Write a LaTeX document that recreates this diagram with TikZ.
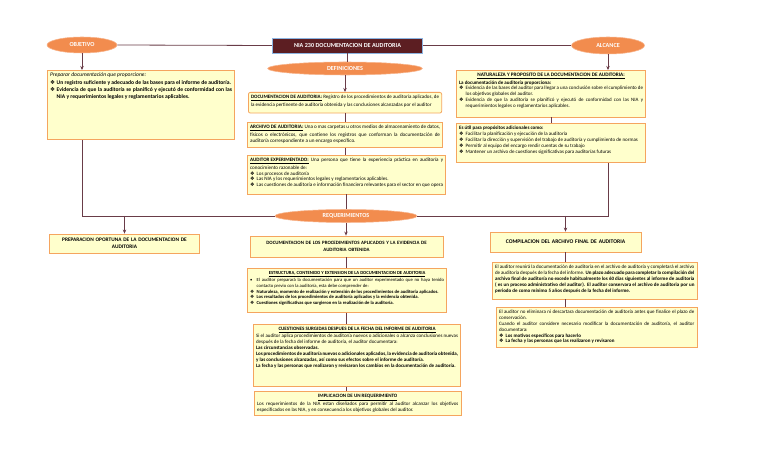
\documentclass[tikz,border=0pt]{standalone}
\usepackage{fontspec}
\setmainfont{Carlito}
\newfontfamily\symfont{DejaVu Sans}
\usetikzlibrary{shapes.geometric,arrows.meta}
\definecolor{ovalfill}{RGB}{242,140,78}
\definecolor{ovalline}{RGB}{248,180,140}
\definecolor{boxfill}{RGB}{255,255,204}
\definecolor{boxline}{RGB}{245,165,95}
\definecolor{niafill}{RGB}{92,30,34}
\definecolor{nialine}{RGB}{140,180,225}
\definecolor{linkcol}{RGB}{105,60,72}
\hyphenpenalty=10000
\exhyphenpenalty=10000
\emergencystretch=4pt
\newcommand{\dia}{{\symfont\char"2756}}
\newcommand{\itm}[1]{\par\hangindent=5pt\hangafter=1\noindent\makebox[5pt][l]{\dia}#1\par}
\newcommand{\boxtxt}[3]{\parbox[c][#2][t]{#1}{#3}}
\begin{document}
\begin{tikzpicture}[x=0.75pt,y=0.75pt,yscale=-1,
    oval/.style={ellipse, fill=ovalfill, draw=ovalline, text=white, inner sep=0pt, font=\fontsize{4.6}{5}\selectfont\bfseries},
    box/.style={draw=boxline, fill=boxfill, line width=0.6pt, anchor=north west, inner sep=2pt, font=\fontsize{3.75}{4.4}\selectfont},
    tbox/.style={draw=boxline, fill=boxfill, line width=0.6pt, align=center, inner sep=1pt, font=\fontsize{4.0}{5}\selectfont\bfseries},
    link/.style={draw=linkcol, line width=0.6pt},
    arr/.style={link, -{Stealth[length=3pt,width=2.6pt]}}]
    \useasboundingbox (0,0) rectangle (768,466);
    \fill[white] (0,0) rectangle (768,466);

    % top row
    \node[oval, minimum width=52.5pt, minimum height=12pt] (obj) at (82,45) {OBJETIVO};
    \node[fill=niafill, draw=nialine, line width=0.6pt, text=white, minimum width=113pt, minimum height=11.25pt, inner sep=0pt, font=\fontsize{4.6}{5}\selectfont\bfseries] (nia) at (347.5,45.5) {NIA 230 DOCUMENTACION DE AUDITORIA};
    \node[oval, minimum width=54.75pt, minimum height=12.75pt] (alc) at (608,45.5) {ALCANCE};
    \node[oval, minimum width=116pt, minimum height=9.75pt] (def) at (345,68.5) {DEFINICIONES};

    % objetivo
    \node[box, font=\fontsize{4.2}{5.3}\selectfont] (objbox) at (47,70) {\boxtxt{136.5pt}{48pt}{%
      {\itshape Preparar documentación que proporcione:}
      \itm{\textbf{Un registro suficiente y adecuado de las bases para el informe de auditoría.}}
      \itm{\textbf{Evidencia de que la auditoría se planificó y ejecutó de conformidad con las NIA y requerimientos legales y reglamentarios aplicables.}}}};

    % definiciones
    \node[box, rounded corners=1.5pt] (d1) at (248,92) {\boxtxt{141pt}{11.5pt}{%
      \textbf{\underline{DOCUMENTACION DE AUDITORIA:}} Registro de los procedimientos de auditoría aplicados, de la evidencia pertinente de auditoría obtenida y las conclusiones alcanzadas por el auditor}};
    \node[box, font=\fontsize{3.85}{4.4}\selectfont] (d2) at (247,122) {\boxtxt{142.5pt}{15pt}{%
      \textbf{\underline{ARCHIVO DE AUDITORIA:}} Una o mas carpetas u otros medios de almacenamiento de datos, físicos o electrónicos, que contiene los registros que conforman la documentación de auditoría correspondiente a un encargo específico.}};
    \node[box, font=\fontsize{3.8}{4.4}\selectfont] (d3) at (247,155) {\boxtxt{144.75pt}{25pt}{%
      \textbf{\underline{AUDITOR EXPERIMENTADO:}} Una persona que tiene la experiencia práctica en auditoría y conocimiento razonable de:
      \itm{Los procesos de auditoría}
      \itm{Las NIA y los requerimientos legales y reglamentarios aplicables.}
      \itm{Las cuestiones de auditoría e información financiera relevantes para el sector en que opera}}};

    % alcance
    \node[box] (nat) at (456,70) {\boxtxt{138pt}{31pt}{%
      {\centering\fontsize{3.9}{4.6}\selectfont\textbf{\underline{NATURALEZA Y PROPOSITO DE LA DOCUMENTACION DE AUDITORIA:}}\par}
      \textbf{La documentación de auditoría proporciona:}
      \itm{Evidencia de las bases del auditor para llegar a una conclusión sobre el cumplimiento de los objetivos globales del auditor.}
      \itm{Evidencia de que la auditoría se planificó y ejecutó de conformidad con las NIA y requerimientos legales o reglamentarios aplicables.}}};
    \node[box] (ut) at (456,123) {\boxtxt{138pt}{25.5pt}{%
      \textbf{Es útil para propósitos adicionales como:}
      \itm{Facilitar la planificación y ejecución de la auditoría}
      \itm{Facilitar la dirección y supervisión del trabajo de auditoría y cumplimiento de normas}
      \itm{Permitir al equipo del encargo rendir cuentas de su trabajo}
      \itm{Mantener un archivo de cuestiones significativas para auditorías futuras}}};

    \node[oval, minimum width=106.5pt, minimum height=9.75pt] (req) at (346,216) {REQUERIMIENTOS};

    % requerimientos
    \node[tbox, minimum width=111.75pt, minimum height=14.25pt, text width=110pt] (prep) at (124.5,243.5) {PREPARACION OPORTUNA DE LA DOCUMENTACION DE\\ AUDITORIA};
    \node[tbox, minimum width=144.75pt, minimum height=15.75pt, text width=142pt, font=\fontsize{3.7}{4.8}\selectfont\bfseries] (doc) at (346.5,246.5) {DOCUMENTACION DE LOS PROCEDIMIENTOS APLICADOS Y LA EVIDENCIA DE\\ AUDITORIA OBTENIDA};
    \node[tbox, minimum width=113.25pt, minimum height=15pt, text width=108pt, font=\fontsize{4.2}{4.6}\selectfont\bfseries] (comp) at (565.5,242) {COMPILACION DEL ARCHIVO FINAL DE AUDITORIA};

    \node[box, font=\fontsize{3.5}{4.2}\selectfont] (est) at (247,268) {\boxtxt{145.5pt}{29pt}{%
      {\centering\textbf{\underline{ESTRUCTURA, CONTENIDO Y EXTENSION DE LA DOCUMENTACION DE AUDITORIA}}\par}
      \par\hangindent=5pt\hangafter=1\noindent\makebox[5pt][l]{\textbullet}El auditor preparará la documentación para que un auditor experimentado que no haya tenido contacto previo con la auditoría, esta debe comprender de:\par
      \itm{\textbf{Naturaleza, momento de realización y extensión de los procedimientos de auditoría aplicados.}}
      \itm{\textbf{Los resultados de los procedimientos de auditoría aplicados y la evidencia obtenida.}}
      \itm{\textbf{Cuestiones significativas que surgieron en la realización de la auditoría.}}}};
    \node[box] (cue) at (253,324) {\boxtxt{151.5pt}{42.5pt}{%
      {\centering\textbf{\underline{CUESTIONES SURGIDAS DESPUES DE LA FECHA DEL INFORME DE AUDITORIA}}\par}
      Si el auditor aplica procedimientos de auditoría nuevos o adicionales o alcanza conclusiones nuevas después de la fecha del informe de auditoría, el auditor documentara:\par
      \textbf{Las circunstancias observadas.}\par
      \textbf{Los procedimientos de auditoría nuevos o adicionales aplicados, la evidencia de auditoría obtenida, y las conclusiones alcanzadas, así como sus efectos sobre el informe de auditoría.}\par
      \textbf{La fecha y las personas que realizaron y revisaron los cambios en la documentación de auditoría.}}};
    \node[box] (imp) at (254,391) {\boxtxt{151pt}{14pt}{%
      {\centering\textbf{\underline{IMPLICACION DE UN REQUERIMIENTO}}\par}
      Los requerimientos de la NIA estan diseñados para permitir al auditor alcanzar los objetivos especificados en las NIA, y en consecuencia los objetivos globales del auditor.}};

    \node[box] (c1) at (492,262) {\boxtxt{149.5pt}{23.5pt}{%
      El auditor reunirá la documentación de auditoría en el archivo de auditoría y completará el archivo de auditoría después de la fecha del informe. \textbf{Un plazo adecuado para completar la compilación del archivo final de auditoría no excede habitualmente los 60 días siguientes al informe de auditoría ( es un proceso administrativo del auditor). El auditor conservara el archivo de auditoria por un periodo de como mínimo 5 años después de la fecha del informe.}}};
    \node[box] (c2) at (496,307) {\boxtxt{146.5pt}{26pt}{%
      El auditor no eliminara ni descartara documentación de auditoría antes que finalice el plazo de conservación.\par
      Cuando el auditor considere necesario modificar la documentación de auditoría, el auditor documentara:
      \itm{\textbf{Los motivos específicos para hacerlo}}
      \itm{\textbf{La fecha y las personas que las realizaron y revisaron}}}};

    % connectors
    \draw[link] (obj.east) -- (nia.west);
    \draw[link] (nia.east) -- (alc.west);
    \draw[arr] (obj.south) -- (obj.south |- objbox.north);
    \draw[link] (nia.south) -- (nia.south |- def.north);
    \draw[arr] (def.south) -- (def.south |- d1.north);
    \draw[link] (d1.south) -- (d1.south |- d2.north);
    \draw[link] (d2.south) -- (d2.south |- d3.north);
    \draw[link] (d3.south) -- (d3.south |- req.north);
    \draw[arr] (alc.south) -- (alc.south |- nat.north);
    \draw[link] (nat.south) -- (nat.south |- ut.north);
    \draw[link] (obj.south |- objbox.south) |- (req.west);
    \draw[link] (alc.south |- ut.south) |- (req.east);
    \draw[arr] (prep.north |- req.west) -- (prep.north);
    \draw[arr] (req.south) -- (req.south |- doc.north);
    \draw[arr] (comp.north |- req.east) -- (comp.north);
    \draw[link] (doc.south) -- (doc.south |- est.north);
    \draw[link] (doc.south |- est.south) -- (doc.south |- cue.north);
    \draw[link] (doc.south |- cue.south) -- (doc.south |- imp.north);
    \draw[link] (comp.south) -- (comp.south |- c1.north);
    \draw[link] (comp.south |- c1.south) -- (comp.south |- c2.north);
\end{tikzpicture}
\end{document}
